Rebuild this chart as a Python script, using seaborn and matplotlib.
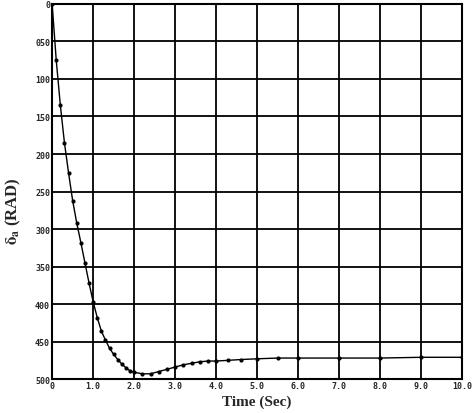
import numpy as np
import pandas as pd
import matplotlib
matplotlib.use("Agg")
import matplotlib.pyplot as plt
import seaborn as sns

# valeurs (temps en s, deflexion)
temps = [0, 0.1, 0.2, 0.3, 0.4, 0.5, 0.6, 0.7, 0.8, 0.9, 1.0, 1.1, 1.2, 1.3,
         1.4, 1.5, 1.6, 1.7, 1.8, 1.9, 2.0, 2.2, 2.4, 2.6, 2.8, 3.0, 3.2, 3.4,
         3.6, 3.8, 4.0, 4.3, 4.6, 5.0, 5.5, 6.0, 7.0, 8.0, 9.0, 10.0]
delta_a = [0, 75, 135, 185, 225, 262, 292, 318, 345, 372, 397, 418, 436, 448,
           459, 467, 474, 480, 485, 489, 491, 493, 493, 490, 487, 484, 481, 479,
           477, 476, 476, 475, 474, 473, 472, 472, 472, 472, 471, 471]

x_ticks = [0, 1, 2, 3, 4, 5, 6, 7, 8, 9, 10]
x_labels = ["0", "1.0", "2.0", "3.0", "4.0", "5.0", "6.0", "7.0", "8.0", "9.0", "10.0"]
y_ticks = [0, 50, 100, 150, 200, 250, 300, 350, 400, 450, 500]
y_labels = ["0", "050", "100", "150", "200", "250", "300", "350", "400", "450", "500"]

sns.set_style("white")
plt.rcParams["font.family"] = ["Liberation Serif", "DejaVu Serif"]
plt.rcParams["mathtext.fontset"] = "stix"

df = pd.DataFrame({"t": temps, "d": delta_a})

fig = plt.figure(figsize=(4.74, 4.14), dpi=100)
ax = fig.add_axes([0.110, 0.082, 0.865, 0.906])

sns.lineplot(data=df, x="t", y="d", ax=ax, color="black", linewidth=1.0,
             marker="o", markersize=3, markeredgewidth=0)

ax.set_xlim(0, 10)
ax.set_ylim(500, 0)
ax.set_xticks(x_ticks)
ax.set_xticklabels(x_labels, fontsize=6, fontweight="bold", family="DejaVu Sans Mono")
ax.set_yticks(y_ticks)
ax.set_yticklabels(y_labels, fontsize=6, fontweight="bold", family="DejaVu Sans Mono")
ax.tick_params(length=0, pad=1.5)
ax.grid(True, color="black", linewidth=1.3)
for s in ax.spines.values():
    s.set_color("black")
    s.set_linewidth(1.5)

ax.set_xlabel("Time (Sec)", fontsize=11, fontweight="bold")
ax.xaxis.set_label_coords(0.5, -0.04)
ax.set_ylabel(r"$\mathbf{\delta_a}$ (RAD)", fontsize=12, fontweight="bold")
ax.yaxis.set_label_coords(-0.07, 0.45)

fig.savefig("out.png", dpi=100)
